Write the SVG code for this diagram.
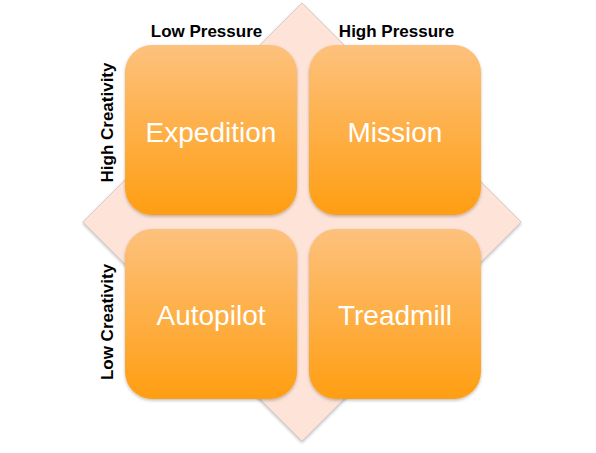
<svg xmlns="http://www.w3.org/2000/svg" width="596" height="453" viewBox="0 0 596 453">
  <defs>
    <linearGradient id="og" x1="0" y1="0" x2="0" y2="1">
      <stop offset="0" stop-color="#FDC17D"/>
      <stop offset="1" stop-color="#FF9E12"/>
    </linearGradient>
    <filter id="sh" x="-10%" y="-10%" width="120%" height="120%">
      <feDropShadow dx="0" dy="1.5" stdDeviation="1.5" flood-color="#000" flood-opacity="0.25"/>
    </filter>
  </defs>
  <style>
    .box { fill: url(#og); filter: url(#sh); }
    .lbl { font-family: "Liberation Sans", Arial, sans-serif; font-size: 28px; fill: #fff; text-anchor: middle; }
    .hdr { font-family: "Liberation Sans", Arial, sans-serif; font-size: 17px; font-weight: bold; fill: #000; text-anchor: middle; }
  </style>
  <rect width="596" height="453" fill="#fff"/>
  <g id="background">
    <polygon points="302,3 521,222 302,441 83,222" fill="#FDE3D8" stroke="#D9CCC6" stroke-width="1" filter="url(#sh)"/>
  </g>
  <g id="axis-labels">
    <text class="hdr" x="206.5" y="37">Low Pressure</text>
    <text class="hdr" x="396.5" y="37">High Pressure</text>
    <text class="hdr" transform="translate(113,122.5) rotate(-90)">High Creativity</text>
    <text class="hdr" transform="translate(113,322) rotate(-90)">Low Creativity</text>
  </g>
  <g id="expedition">
    <rect class="box" x="125" y="45" width="172" height="170" rx="27"/>
    <text class="lbl" x="211" y="142">Expedition</text>
  </g>
  <g id="mission">
    <rect class="box" x="309" y="45" width="172" height="170" rx="27"/>
    <text class="lbl" x="395" y="142">Mission</text>
  </g>
  <g id="autopilot">
    <rect class="box" x="125" y="229" width="172" height="170" rx="27"/>
    <text class="lbl" x="211" y="325">Autopilot</text>
  </g>
  <g id="treadmill">
    <rect class="box" x="309" y="229" width="172" height="170" rx="27"/>
    <text class="lbl" x="395" y="325">Treadmill</text>
  </g>
  <g id="connectors"/>
</svg>
